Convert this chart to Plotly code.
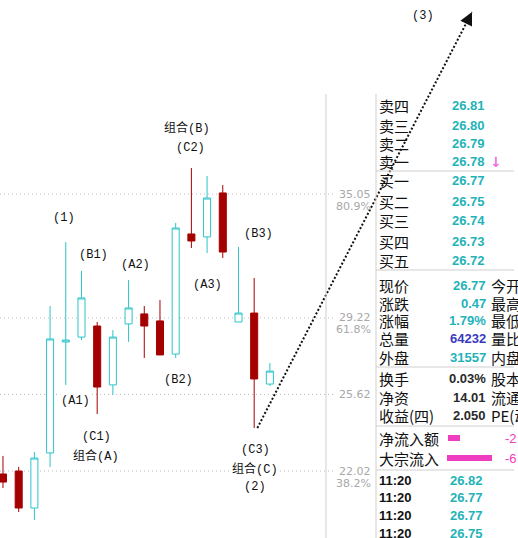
import plotly.graph_objects as go

W, H = 518, 538

# ---------------- data ----------------
candle_idx = list(range(18))
opens  = [21.88, 22.02, 20.28, 22.87, 28.09, 28.32, 28.84, 26.07, 28.94, 29.41, 29.08, 27.52, 33.17, 33.03, 35.10, 29.03, 29.45, 26.11]
highs  = [22.73, 22.21, 22.91, 29.78, 32.79, 31.43, 29.03, 28.65, 31.00, 29.78, 30.06, 33.69, 36.27, 35.90, 35.47, 32.56, 31.10, 27.10]
lows   = [21.22, 20.09, 19.72, 22.21, 26.07, 28.18, 24.70, 25.60, 28.09, 27.34, 27.48, 27.34, 32.51, 32.27, 32.04, 29.03, 24.04, 26.02]
closes = [21.50, 20.28, 22.63, 28.23, 28.18, 30.16, 25.97, 28.32, 29.69, 28.84, 27.48, 33.45, 32.84, 34.86, 32.32, 29.45, 26.35, 26.72]

fib_levels = [35.05, 29.22, 25.62, 22.02]
fib_pcts = ["80.9%", "61.8%", "", "38.2%"]

ask_labels = ["卖四", "卖三", "卖二", "卖一"]
ask_prices = ["26.81", "26.80", "26.79", "26.78"]
bid_labels = ["买一", "买二", "买三", "买四", "买五"]
bid_prices = ["26.77", "26.75", "26.74", "26.73", "26.72"]
quote_labels = ["现价", "涨跌", "涨幅", "总量", "外盘"]
quote_values = ["26.77", "0.47", "1.79%", "64232", "31557"]
quote_right = ["今开", "最高", "最低", "量比", "内盘"]
fund_labels = ["换手", "净资", "收益(四)"]
fund_values = ["0.03%", "14.01", "2.050"]
fund_right = ["股本", "流通", "PE(动)"]
flow_labels = ["净流入额", "大宗流入"]
flow_right = ["-2", "-6"]
tick_times = ["11:20", "11:20", "11:20", "11:20"]
tick_prices = ["26.82", "26.77", "26.77", "26.75"]

# ---------------- styles ----------------
CYAN = "#2EC4C8"
RED = "#A50000"
NUM = "#1FB3B8"
BLUE = "#3A3AC0"
PINK = "#F03CC0"
GRAY = "#A8A8A8"
LINE = "#CFCFCF"
CJK = "Noto Sans CJK SC"
MONO = "Liberation Mono, Noto Sans CJK SC"
SANS = "Liberation Sans, Arial, sans-serif"

X_SCALE = 15.7      # px per candle
X0 = -0.19          # axis value at left edge
Y_SCALE = 21.26     # px per price unit
Y_TOP = 35.05 + 194 / Y_SCALE

x_range = [X0, X0 + W / X_SCALE]
y_range = [Y_TOP - H / Y_SCALE, Y_TOP]


def px(x):
    return x / W


def py(y):
    return 1 - y / H


fig = go.Figure()
fig.add_trace(go.Candlestick(
    x=candle_idx, open=opens, high=highs, low=lows, close=closes,
    increasing=dict(line=dict(color=CYAN, width=1), fillcolor="white"),
    decreasing=dict(line=dict(color=RED, width=1), fillcolor=RED),
    whiskerwidth=0, hoverinfo="skip", showlegend=False,
))

# projection arrow (dotted) from the last red candle's low
tip_x = X0 + 472 / X_SCALE
tip_y = Y_TOP - 12 / Y_SCALE
start_x = candle_idx[16] + 0.2
start_y = lows[16]
fig.add_trace(go.Scatter(
    x=[start_x, tip_x], y=[start_y, tip_y], mode="lines",
    line=dict(color="#111111", width=2, dash="2px,2px"),
    hoverinfo="skip", showlegend=False,
))

shapes = []
annotations = []

# fib levels
for lv, pct in zip(fib_levels, fib_pcts):
    shapes.append(dict(type="line", xref="paper", yref="y", x0=0, x1=px(333), y0=lv, y1=lv,
                       line=dict(color="#BDBDBD", width=1, dash="1px,3px"), layer="below"))
    annotations.append(dict(xref="paper", yref="y", x=px(372), y=lv, text=f"{lv:.2f}",
                            xanchor="right", yanchor="middle", showarrow=False, borderpad=0,
                            font=dict(family="DejaVu Sans", size=11, color=GRAY)))
    if pct:
        annotations.append(dict(xref="paper", yref="y", x=px(372), y=lv, yshift=-12, text=pct,
                                xanchor="right", yanchor="middle", showarrow=False, borderpad=0,
                                font=dict(family="DejaVu Sans", size=11, color=GRAY)))

# vertical separators
for xv in (326, 376):
    shapes.append(dict(type="line", xref="paper", yref="paper", x0=px(xv), x1=px(xv),
                       y0=py(94), y1=0, line=dict(color=LINE, width=1)))

# horizontal separators in right panel
for yv in (171, 270, 367, 426, 470):
    shapes.append(dict(type="line", xref="paper", yref="paper", x0=px(376), x1=px(514),
                       y0=py(yv), y1=py(yv), line=dict(color=LINE, width=1)))


def txt(x, y, text, color="#111111", size=14, anchor="left", family=CJK, bg=None):
    d = dict(xref="paper", yref="paper", x=px(x), y=py(y), text=text, xanchor=anchor,
             yanchor="middle", showarrow=False, borderpad=0,
             font=dict(family=family, size=size, color=color))
    if bg:
        d["bgcolor"] = bg
    annotations.append(d)


# chart labels
chart_labels = [
    (64, 218, "(1)"), (93, 255, "(B1)"), (135, 265, "(A2)"), (178, 380, "(B2)"),
    (75, 401, "(A1)"), (96, 437, "(C1)"), (96, 456, "组合(A)"),
    (187, 128, "组合(B)"), (190, 148, "(C2)"), (207, 285, "(A3)"), (258, 234, "(B3)"),
    (255, 450, "(C3)"), (255, 469, "组合(C)"), (255, 487, "(2)"), (423, 16, "(3)"),
]
for x, y, t in chart_labels:
    txt(x, y, t, color="#111111", size=12, anchor="center", family=MONO, bg="white")

# arrow head
annotations.append(dict(xref="x", yref="y", x=tip_x, y=tip_y, ax=-5, ay=10, text="",
                        showarrow=True, arrowhead=2, arrowsize=1.3, arrowwidth=2,
                        arrowcolor="#111111"))

# order book
ask_y = [106, 125, 143, 162]
for y, lab, val in zip(ask_y, ask_labels, ask_prices):
    txt(378, y, lab, size=15)
    txt(486, y, f"<b>{val}</b>", color=NUM, size=13, anchor="right", family=SANS)
txt(496, 162, "<b>↓</b>", color="#F070E0", size=14, anchor="center", family="DejaVu Sans")

bid_y = [181, 201, 221, 241, 260]
for y, lab, val in zip(bid_y, bid_labels, bid_prices):
    txt(378, y, lab, size=15)
    txt(486, y, f"<b>{val}</b>", color=NUM, size=13, anchor="right", family=SANS)

quote_y = [285, 303, 320, 338, 357]
for i, (y, lab, val, r) in enumerate(zip(quote_y, quote_labels, quote_values, quote_right)):
    txt(378, y, lab, size=15)
    txt(487, y, f"<b>{val}</b>", color=BLUE if i == 3 else NUM, size=13, anchor="right", family=SANS)
    txt(490, y, r, size=15)

fund_y = [378, 397, 415]
for y, lab, val, r in zip(fund_y, fund_labels, fund_values, fund_right):
    txt(378, y, lab, size=15)
    txt(487, y, f"<b>{val}</b>", color="#2A2A2A", size=13, anchor="right", family=SANS)
    txt(490, y, r, size=15)

flow_y = [438, 458]
flow_bar = [(448, 460), (447, 492)]
for y, lab, r, (b0, b1) in zip(flow_y, flow_labels, flow_right, flow_bar):
    txt(378, y, lab, size=15)
    shapes.append(dict(type="rect", xref="paper", yref="paper", x0=px(b0), x1=px(b1),
                       y0=py(y + 3), y1=py(y - 3), fillcolor=PINK, line=dict(width=0)))
    txt(504, y, r, color=PINK, size=13, family=SANS)

tick_y = [480, 497, 515, 533]
for y, t, p in zip(tick_y, tick_times, tick_prices):
    txt(378, y, f"<b>{t}</b>", color="#111111", size=13, family=SANS)
    txt(484, y, f"<b>{p}</b>", color=NUM, size=13, anchor="right", family=SANS)

fig.update_layout(
    width=W, height=H,
    margin=dict(l=0, r=0, t=0, b=0),
    paper_bgcolor="white", plot_bgcolor="white",
    showlegend=False,
    boxgap=0.36,
    xaxis=dict(range=x_range, visible=False, showgrid=False, zeroline=False,
               rangeslider=dict(visible=False), fixedrange=True),
    yaxis=dict(range=y_range, visible=False, showgrid=False, zeroline=False, fixedrange=True),
    shapes=shapes,
    annotations=annotations,
)

fig.write_html("out.html", config={"displayModeBar": False})
